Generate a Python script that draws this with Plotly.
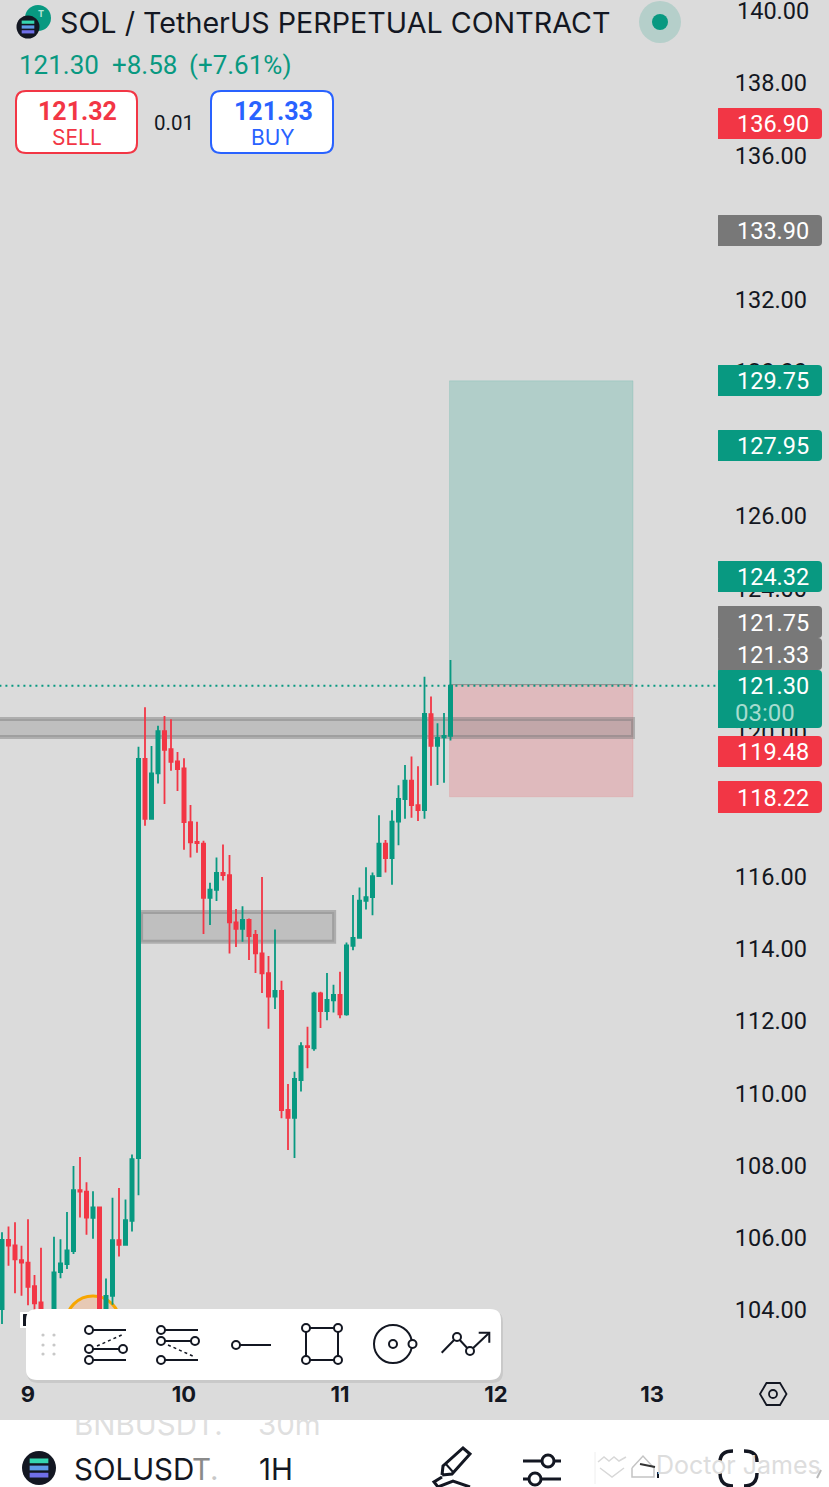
import plotly.graph_objects as go

W = 829
H = 1487
CHART_BOTTOM = 1420

GREEN = "#089981"
RED = "#f23645"
BLUE = "#2962ff"
GREY = "#787878"
INK = "#131722"
FONT = "Inter"
NUM_FONT = "Roboto"

# hours since the start of day 9
hours = list(range(-4, 66))
opens = [104.02, 105.94, 105.79, 105.38, 105.31, 104.66, 104.21, 103.90, 103.86, 105.05,
         105.27, 105.63, 107.32, 107.28, 106.55, 106.84, 103.40, 104.39, 105.93, 105.80,
         106.47, 108.21, 119.27, 117.61, 118.87, 120.04, 119.54, 119.20, 119.01, 117.52,
         116.97, 116.92, 115.42, 115.64, 116.11, 116.05, 114.74, 114.56, 114.81, 114.39,
         113.88, 113.33, 112.68, 112.84, 109.54, 109.32, 110.37, 111.31, 111.25, 112.77,
         112.28, 112.58, 112.73, 112.19, 114.09, 114.31, 115.34, 115.44, 116.02, 116.92,
         116.52, 117.53, 118.16, 118.67, 117.99, 117.85, 120.51, 119.63, 119.87, 119.91]
highs = [106.15, 106.31, 106.43, 105.78, 106.51, 104.97, 105.72, 104.00, 106.03, 105.96,
         106.71, 107.99, 108.24, 107.54, 107.29, 106.84, 104.87, 107.11, 107.38, 107.06,
         108.31, 119.61, 120.70, 119.63, 120.19, 120.46, 120.37, 119.46, 119.29, 117.99,
         117.53, 117.00, 115.84, 116.54, 116.90, 116.61, 115.11, 115.19, 114.85, 114.53,
         116.00, 113.81, 114.54, 113.12, 110.26, 110.60, 111.42, 111.85, 112.82, 112.82,
         113.34, 113.01, 113.37, 114.18, 115.50, 115.71, 116.27, 116.12, 117.71, 117.02,
         117.85, 118.54, 119.10, 119.34, 119.07, 121.55, 121.00, 120.26, 120.54, 122.01]
lows = [103.61, 105.22, 104.46, 104.39, 104.13, 103.94, 103.72, 103.40, 103.66, 104.88,
        105.13, 105.55, 106.56, 106.08, 105.97, 103.20, 103.20, 104.14, 105.48, 105.80,
        106.17, 107.18, 117.42, 117.61, 118.59, 118.02, 118.94, 118.38, 116.75, 116.54,
        116.67, 114.42, 114.67, 115.33, 115.90, 113.88, 114.06, 114.20, 113.70, 113.34,
        112.78, 111.79, 112.34, 109.31, 108.43, 108.21, 110.05, 110.70, 111.18, 111.81,
        112.03, 112.24, 112.08, 112.15, 113.97, 114.31, 115.10, 114.94, 116.02, 116.12,
        115.78, 116.88, 117.61, 117.64, 117.55, 117.61, 118.53, 118.55, 118.61, 119.78]
closes = [105.94, 105.78, 105.40, 105.31, 104.64, 104.18, 103.94, 103.60, 105.04, 105.29,
          105.65, 107.32, 107.28, 106.56, 106.84, 103.40, 104.39, 105.93, 105.80, 106.49,
          108.18, 119.27, 117.61, 118.87, 120.04, 119.52, 119.19, 118.99, 117.52, 116.96,
          116.94, 115.42, 115.65, 116.11, 116.05, 114.74, 114.56, 114.81, 114.36, 113.88,
          113.33, 112.68, 112.84, 109.54, 109.32, 110.40, 111.31, 111.28, 112.77, 112.28,
          112.59, 112.73, 112.19, 114.10, 114.31, 115.34, 115.44, 116.02, 116.92, 116.52,
          117.53, 118.16, 118.67, 117.99, 117.85, 120.52, 119.63, 119.85, 119.91, 121.30]

price_ticks = [104, 106, 108, 110, 112, 114, 116, 118, 120, 122, 124,
               126, 128, 130, 132, 134, 136, 138]
day_ticks = [0, 24, 48, 72, 96]
day_labels = ["9", "10", "11", "12", "13"]

last_price = 121.30
entry_price = 121.33
target_price = 129.75
stop_price = 118.22
position_start = 64.85
position_end = 93.08

zone_upper = [119.88, 120.38]
zone_lower = [114.20, 115.03]
zone_upper_x = [-6, 93.08]
zone_lower_x = [17.4, 47.1]

badge_labels = ["136.90", "133.90", "129.75", "127.95", "124.32", "121.75", "121.33", "119.48", "118.22"]
badge_colors = [RED, GREY, GREEN, GREEN, GREEN, GREY, GREY, RED, RED]
badge_tops = [108, 215, 365, 430, 561, 606, 638, 736, 781]
badge_bottoms = [139, 246, 396, 461, 592, 638, 670, 767, 813]


def px(x):
    return x / W


def py(y):
    return 1 - y / H


shapes = []
annotations = []


def rrect(x0, y0, x1, y1, r, fill, line=None, lw=0, layer="above", rl=None):
    # rounded rectangle in screen pixels, rl is the radius on the left corners
    rl = r if rl is None else rl
    path = (f"M{px(x0 + rl)},{py(y0)} L{px(x1 - r)},{py(y0)} Q{px(x1)},{py(y0)} {px(x1)},{py(y0 + r)} "
            f"L{px(x1)},{py(y1 - r)} Q{px(x1)},{py(y1)} {px(x1 - r)},{py(y1)} L{px(x0 + rl)},{py(y1)} "
            f"Q{px(x0)},{py(y1)} {px(x0)},{py(y1 - rl)} L{px(x0)},{py(y0 + rl)} Q{px(x0)},{py(y0)} {px(x0 + rl)},{py(y0)} Z")
    shapes.append(dict(type="path", xref="paper", yref="paper", path=path, fillcolor=fill,
                       line=dict(color=line or fill, width=lw), layer=layer))


def circle(cx, cy, r, fill="white", line=INK, lw=2, layer="above"):
    shapes.append(dict(type="circle", xref="paper", yref="paper", x0=px(cx - r), x1=px(cx + r),
                       y0=py(cy + r), y1=py(cy - r), fillcolor=fill,
                       line=dict(color=line, width=lw), layer=layer))


def seg(x0, y0, x1, y1, color=INK, lw=2, dash="solid"):
    shapes.append(dict(type="line", xref="paper", yref="paper", x0=px(x0), x1=px(x1), y0=py(y0), y1=py(y1),
                       line=dict(color=color, width=lw, dash=dash), layer="above"))


def poly(points, color=INK, lw=2, close=False):
    path = "M" + " L".join(f"{px(x)},{py(y)}" for x, y in points) + (" Z" if close else "")
    shapes.append(dict(type="path", xref="paper", yref="paper", path=path,
                       line=dict(color=color, width=lw), layer="above"))


def corner(x0, y0, cx, cy, x1, y1, lw=3.5):
    # short bracket arm with a rounded bend
    path = f"M{px(x0)},{py(y0)} Q{px(cx)},{py(cy)} {px(x1)},{py(y1)}"
    shapes.append(dict(type="path", xref="paper", yref="paper", path=path,
                       line=dict(color=INK, width=lw), layer="above"))


def label(x, y, text, size, color=INK, anchor="center", family=FONT):
    annotations.append(dict(xref="paper", yref="paper", x=px(x), y=py(y), text=text, showarrow=False,
                            xanchor=anchor, yanchor="middle", font=dict(family=family, size=size, color=color)))


def sol_logo(cx, cy, r):
    circle(cx, cy, r, fill="#131722", line="#131722", lw=0)
    seg(cx - r * 0.55, cy - r * 0.42, cx + r * 0.55, cy - r * 0.42, "#35d6b0", r * 0.28)
    seg(cx - r * 0.55, cy, cx + r * 0.55, cy, "#5f9be8", r * 0.28)
    seg(cx - r * 0.55, cy + r * 0.42, cx + r * 0.55, cy + r * 0.42, "#6f6fe8", r * 0.28)


# background of the chart, the page itself stays white
shapes.append(dict(type="rect", xref="paper", yref="paper", x0=0, x1=1, y0=py(CHART_BOTTOM), y1=1,
                   fillcolor="#dbdbdb", line=dict(width=0), layer="below"))

# orange marker that sits behind the candles
circle(93, 1323, 27, fill="rgba(255,170,110,0.35)", line="#f7a600", lw=3, layer="below")

# long position tool
shapes.append(dict(type="rect", x0=position_start, x1=position_end, y0=entry_price, y1=target_price,
                   fillcolor="rgba(8,153,129,0.2)", line=dict(color="rgba(8,153,129,0.12)", width=1), layer="below"))
shapes.append(dict(type="rect", x0=position_start, x1=position_end, y0=stop_price, y1=entry_price,
                   fillcolor="rgba(242,54,69,0.2)", line=dict(color="rgba(242,54,69,0.12)", width=1), layer="below"))
shapes.append(dict(type="line", x0=position_start, x1=position_end, y0=entry_price, y1=entry_price,
                   line=dict(color="#8f8f8f", width=1), layer="below"))

# drawn zones
shapes.append(dict(type="rect", x0=zone_upper_x[0], x1=zone_upper_x[1], y0=zone_upper[0], y1=zone_upper[1],
                   fillcolor="rgba(120,120,120,0.28)", line=dict(color="rgba(120,120,120,0.45)", width=4), layer="below"))
shapes.append(dict(type="rect", x0=zone_lower_x[0], x1=zone_lower_x[1], y0=zone_lower[0], y1=zone_lower[1],
                   fillcolor="rgba(120,120,120,0.28)", line=dict(color="rgba(120,120,120,0.45)", width=4), layer="below"))

# last price line
shapes.append(dict(type="line", x0=-4.4, x1=106, y0=last_price, y1=last_price,
                   line=dict(color=GREEN, width=2, dash="2px,4px"), layer="below"))

# top tick sits too close to the edge for the axis to draw it
label(772.5, 11, "140.00", 23.5, INK, family=NUM_FONT)

# price badges
for text, color, top, bottom in zip(badge_labels, badge_colors, badge_tops, badge_bottoms):
    rrect(718, top, 822, bottom, 4, color, rl=0.5)
    label(772.5, (top + bottom) / 2 + 0.5, text, 23.5, "white", family=NUM_FONT)
rrect(718, 670, 822, 728, 4, GREEN, rl=0.5)
label(772.5, 686, "121.30", 23.5, "white", family=NUM_FONT)
label(765, 713, "03:00", 24, "#a6dccf", family=NUM_FONT)

# header
circle(38, 18, 13, fill=GREEN, line=GREEN, lw=0)
label(41, 14, "<b>T</b>", 9, "#b8e6da")
sol_logo(28, 27, 11.5)
label(58, 23, "SOL / TetherUS PERPETUAL CONTRACT", 28.7, "#131722", "left")
label(17, 65, "121.30", 26, GREEN, "left", NUM_FONT)
label(110, 65, "+8.58", 26, GREEN, "left", NUM_FONT)
label(187, 65, "(+7.61%)", 26, GREEN, "left", NUM_FONT)
circle(660, 22, 21, fill="#b5cfca", line="#b5cfca", lw=0)
circle(660, 22, 8, fill=GREEN, line=GREEN, lw=0)

rrect(16, 91, 137, 153, 10, "white", RED, 2)
label(77.5, 111, "<b>121.32</b>", 25, RED, family=NUM_FONT)
label(76.5, 138, "SELL", 21, RED)
label(174, 123, "0.01", 20.5, INK, family=NUM_FONT)
rrect(211, 91, 333, 153, 10, "white", BLUE, 2)
label(273, 111, "<b>121.33</b>", 25, BLUE, family=NUM_FONT)
label(272.5, 138, "BUY", 21, BLUE)

# small label peeking out above the toolbar
rrect(20, 1312, 30, 1328, 0.5, "white")
rrect(23, 1314, 28, 1326, 0.5, "#131722")

# drawing toolbar
rrect(27, 1311, 503, 1383, 11, "rgba(0,0,0,0.08)")
rrect(26, 1309, 501, 1380, 11, "white")
for dx, dy in [(43, 1335), (54, 1335), (43, 1345), (54, 1345), (43, 1354), (54, 1354)]:
    circle(dx, dy, 1.6, fill="#c8c8c8", line="#c8c8c8", lw=0)

seg(89, 1330, 126, 1330)
seg(89, 1349, 123, 1349)
seg(89, 1360, 126, 1360)
seg(97, 1346, 124, 1334, lw=1.5, dash="dot")
for cx, cy in [(89, 1330), (89, 1349), (123, 1349), (89, 1360)]:
    circle(cx, cy, 4)

seg(161, 1330, 198, 1330)
seg(161, 1341, 195, 1341)
seg(161, 1360, 198, 1360)
seg(168, 1345, 195, 1357, lw=1.5, dash="dot")
for cx, cy in [(161, 1330), (161, 1341), (195, 1341), (161, 1360)]:
    circle(cx, cy, 4)

seg(236, 1345, 271, 1345)
circle(236, 1345, 4)

poly([(306, 1328), (338, 1328), (338, 1360), (306, 1360)], close=True)
for cx, cy in [(306, 1328), (338, 1328), (338, 1360), (306, 1360)]:
    circle(cx, cy, 4)

circle(393, 1344, 19, fill="rgba(0,0,0,0)")
circle(393, 1344, 4)
circle(412.5, 1344, 4)

poly([(441.7, 1352.7), (457, 1337), (470, 1351), (489.3, 1332.7)])
poly([(478.7, 1332.7), (489.3, 1332.7), (489.3, 1342.7)])
circle(457, 1337, 4)
circle(470, 1351, 4)

# settings icon of the time scale
poly([(760, 1394), (766.5, 1383), (780, 1383), (786.5, 1394), (780, 1405), (766.5, 1405)], lw=1.8, close=True)
circle(773, 1394, 4, fill="rgba(0,0,0,0)", lw=1.8)

# bottom bar
sol_logo(39, 1468, 17)
label(72, 1469, "SOLUSD", 29.5, "#131722", "left")
label(190, 1469, "T", 29.5, "#8a8a8a", "left")
label(208, 1469, ".", 29.5, "#c8c8c8", "left")
label(257, 1469, "1H", 29.5, "#131722", "left")

poly([(442, 1475), (443, 1466), (463, 1448), (470, 1454), (452, 1474), (442, 1475)], lw=3)
poly([(445, 1463), (453, 1472)], lw=2)
poly([(442, 1477), (434, 1482), (438, 1487), (453, 1481), (470, 1487)], lw=3)

seg(523, 1461, 561, 1461, lw=3)
seg(523, 1479, 561, 1479, lw=3)
circle(548, 1461, 6, lw=3)
circle(535, 1479, 6, lw=3)

corner(733, 1451, 720, 1451, 720, 1462)
corner(744, 1451, 757, 1451, 757, 1462)
corner(733, 1486, 720, 1486, 720, 1473)
corner(744, 1486, 757, 1486, 757, 1473)

# watermark over the bar, partly on top of the icons
seg(595, 1452, 595, 1484, "#eeeeee", 1)
poly([(598, 1462), (604, 1457), (609, 1461), (614, 1457), (619, 1461), (626, 1457)], "#d8d8d8", 1.5)
poly([(600, 1468), (612, 1477), (624, 1468)], "#d8d8d8", 1.5)
poly([(632, 1468), (643, 1456), (654, 1468), (654, 1477), (632, 1477), (632, 1468)], "#c4c4c4", 1.5)
poly([(640, 1464), (655, 1467)], "#333333", 2)
seg(658, 1472, 658, 1478, INK, 2)
seg(821, 1470, 817, 1478, "#b8b8b8", 2)
label(738, 1465, "Doctor James", 25, "#dddddd")

fig = go.Figure()

fig.add_trace(go.Candlestick(
    x=hours, open=opens, high=highs, low=lows, close=closes,
    increasing=dict(line=dict(color=GREEN, width=1.8), fillcolor=GREEN),
    decreasing=dict(line=dict(color=RED, width=1.8), fillcolor=RED),
    whiskerwidth=0,
    showlegend=False,
))

# scrolled list row, cut off by the top of the white bar
fig.add_trace(go.Scatter(
    x=[74, 258], y=[1428, 1428], mode="text", text=["BNBUSDT.", "30m"], textposition="middle right",
    textfont=dict(family=FONT, size=29.5, color="#dfdfdf"), xaxis="x2", yaxis="y2", showlegend=False,
    cliponaxis=True,
))

fig.update_layout(
    width=W, height=H,
    margin=dict(l=0, r=0, t=0, b=0),
    paper_bgcolor="white",
    plot_bgcolor="rgba(0,0,0,0)",
    showlegend=False,
    shapes=shapes,
    annotations=annotations,
    font=dict(family=FONT, color=INK),
    xaxis=dict(
        range=[-28 / 6.5, (W - 28) / 6.5],
        domain=[0, 1], anchor="y",
        tickmode="array", tickvals=day_ticks, ticktext=day_labels,
        ticklabelposition="inside", ticklabelstandoff=11,
        tickfont=dict(family=FONT, size=22, color=INK, weight="bold"),
        showgrid=False, zeroline=False, showline=False, ticks="",
        rangeslider=dict(visible=False),
    ),
    yaxis=dict(
        range=[140 - (CHART_BOTTOM - 11) / 36.08, 140 + 11 / 36.08],
        domain=[(H - CHART_BOTTOM) / H, 1], anchor="x", side="right",
        tickmode="array", tickvals=price_ticks, tickformat=".2f",
        ticklabelposition="inside", ticklabelstandoff=19,
        tickfont=dict(family=NUM_FONT, size=23.5, color=INK),
        showgrid=False, zeroline=False, showline=False, ticks="",
    ),
    xaxis2=dict(range=[0, W], domain=[0, 1], anchor="y2", visible=False),
    yaxis2=dict(range=[H, CHART_BOTTOM], domain=[0, (H - CHART_BOTTOM) / H], anchor="x2", visible=False),
)

fig.write_html("out.html", config={"displayModeBar": False}, post_script="document.body.style.margin='0';")
